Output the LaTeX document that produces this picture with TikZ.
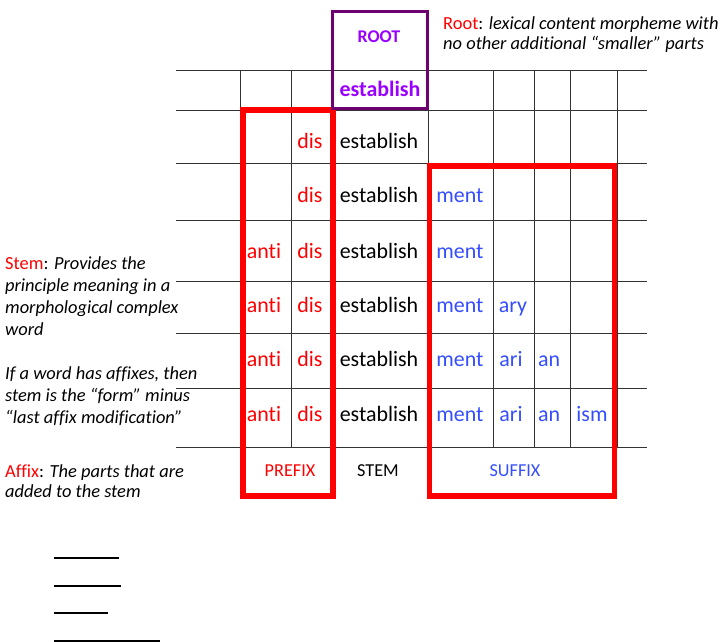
\documentclass[tikz,border=0pt]{standalone}
\usepackage{fontspec}
\setmainfont{Carlito}[Ligatures=NoCommon]

\definecolor{prefixred}{RGB}{255,0,0}
\definecolor{suffixblue}{RGB}{51,77,255}
\definecolor{rootviolet}{RGB}{153,0,255}
\definecolor{rootframe}{RGB}{112,0,112}

\tikzset{
  cellword/.style={anchor=base, inner sep=0pt, font=\fontsize{22}{26}\selectfont},
  prefixword/.style={cellword, text=prefixred},
  stemword/.style={cellword},
  suffixword/.style={cellword, text=suffixblue},
  rootword/.style={cellword, text=rootviolet, font=\fontsize{22}{26}\selectfont\bfseries},
  columntag/.style={anchor=base, inner sep=0pt, font=\fontsize{18.3}{20}\selectfont},
  gloss/.style={anchor=base west, inner sep=0pt, align=left, font=\fontsize{18.5}{22}\selectfont\itshape},
  gridline/.style={black!80, line width=0.9bp},
  groupbox/.style={prefixred, line width=5.5bp},
}

\begin{document}
\begin{tikzpicture}[x=1bp, y=-1bp]
    \useasboundingbox (0,0) rectangle (720,642);

    % table rules
    \foreach \y in {70,110,163,220,281,333,388,447}
        \draw[gridline] (176,\y) -- (647,\y);
    \foreach \x in {240,291,331,428,493,534,570,617}
        \draw[gridline] (\x,70) -- (\x,447);

    % prefix, suffix and root frames
    \draw[groupbox] (243,110) rectangle (333,496);
    \draw[groupbox] (429.5,166) rectangle (614.5,496);
    \draw[rootframe, line width=3bp] (332,12) rectangle (427.5,109);

    \node[rootword, font=\fontsize{18}{20}\selectfont\bfseries] (roottag) at (379,43) {ROOT};
    \node[rootword] (root) at (380,97) {establish};

    % word rows
    \foreach \r/\y in {2/149,3/203,4/258,5/312,6/366,7/421} {
        \node[prefixword] (dis\r) at (310,\y) {dis};
        \node[stemword] (est\r) at (379,\y) {establish};
    }
    \foreach \r/\y in {4/258,5/312,6/366,7/421}
        \node[prefixword] (anti\r) at (264,\y) {anti};
    \foreach \r/\y in {3/203,4/258,5/312,6/366,7/421}
        \node[suffixword] (ment\r) at (460,\y) {ment};
    \node[suffixword] (ary5) at (513,312) {ary};
    \foreach \r/\y in {6/366,7/421} {
        \node[suffixword] (ari\r) at (511,\y) {ari};
        \node[suffixword] (an\r) at (549,\y) {an};
    }
    \node[suffixword] (ism7) at (592,421) {ism};

    \node[columntag, text=prefixred] (prefixtag) at (290,476) {PREFIX};
    \node[columntag] (stemtag) at (378,476) {STEM};
    \node[columntag, text=suffixblue] (suffixtag) at (515,476) {SUFFIX};

    % definitions (anchored at the baseline of their last line)
    \node[gloss, font=\fontsize{18.5}{21}\selectfont\itshape] (rootgloss) at (443,50)
        {\textcolor{prefixred}{\upshape Root}{\upshape :} lexical content morpheme with\\no other additional “smaller” parts};
    \node[gloss] (stemgloss) at (5,335)
        {\textcolor{prefixred}{\upshape Stem}{\upshape :} Provides the\\principle meaning in a\\morphological complex\\word};
    \node[gloss] (stemrule) at (5,423)
        {If a word has affixes, then\\stem is the “form” minus\\“last affix modification”};
    \node[gloss, font=\fontsize{18.5}{20}\selectfont\itshape] (affixgloss) at (5,497)
        {\textcolor{prefixred}{\upshape Affix}{\upshape :} The parts that are\\added to the stem};

    % blanks
    \foreach \y/\e in {558/119,586/121,613/108,641/160}
        \draw[line width=1.4bp] (54,\y) -- (\e,\y);
\end{tikzpicture}
\end{document}
